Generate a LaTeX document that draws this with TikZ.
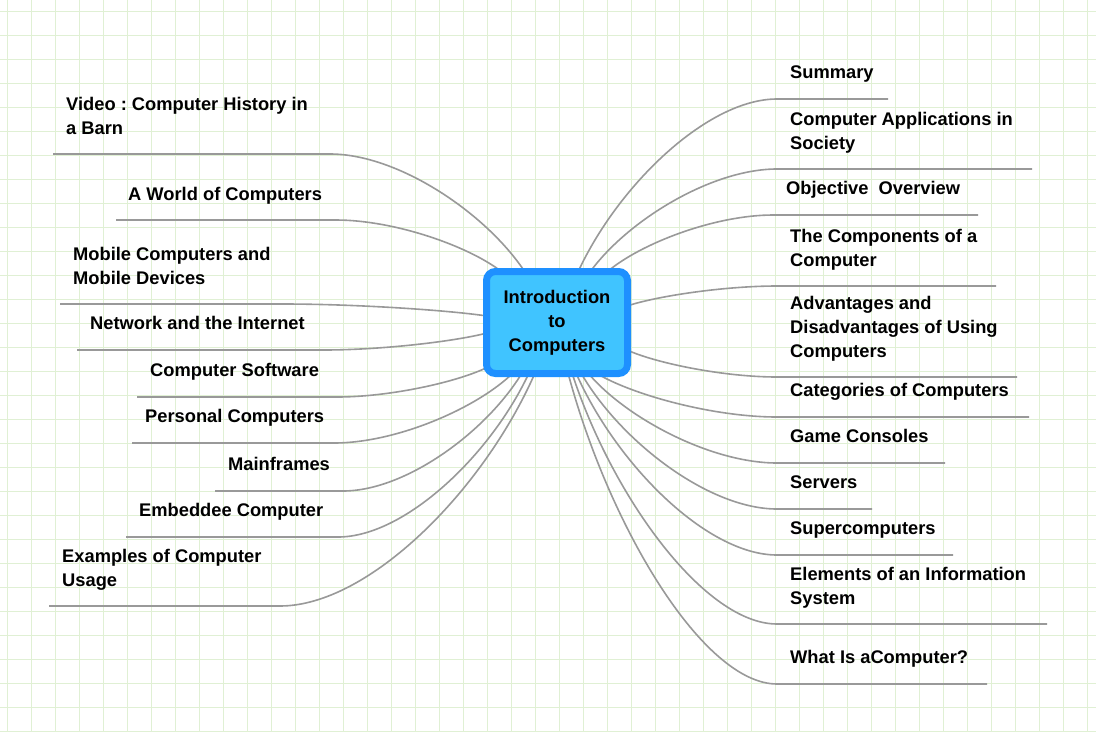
\documentclass[tikz,border=0pt]{standalone}
\usepackage{fontspec}
\setmainfont{Liberation Sans}
\usetikzlibrary{calc}
\frenchspacing
\definecolor{gridc}{RGB}{224,240,212}
\definecolor{connc}{RGB}{153,153,153}
\definecolor{hubborder}{RGB}{30,144,255}
\definecolor{hubfill}{RGB}{64,196,255}
\tikzset{
  lbl/.style={inner sep=0pt, align=left, anchor=base west, text=black,
    font=\fontsize{18.3}{24}\selectfont\bfseries},
  conn/.style={draw=connc, line width=1.6pt},
  gridline/.style={draw=gridc, line width=1pt},
  hubbox/.style={draw=hubborder, fill=hubfill, line width=7pt, rounded corners=9pt,
    minimum width=141pt, minimum height=102pt, inner sep=0pt, align=center, text=black,
    font=\fontsize{18.3}{24}\selectfont\bfseries},
}
\newcommand\mmbranch[3]{%
  \draw[conn] let \p1=(#1), \p2=(#2) in (\p1)
    .. controls ({\x1+0.2*(\x2-\x1)},{\y1+0.5*(\y2-\y1)}) and ({\x2-0.35*(\x2-\x1)},{\y2}) .. (\p2) -- (#3);}
\begin{document}
\begin{tikzpicture}[x=1pt,y=-1pt]
\useasboundingbox (0,0) rectangle (1096,732);
\fill[white] (0,0) rectangle (1096,732);
% grid
\foreach \gx in {7,31,...,1096} {\draw[gridline] (\gx,0) -- (\gx,732);}
\foreach \gy in {11.5,35.5,...,732} {\draw[gridline] (0,\gy) -- (1096,\gy);}

% attach points and underline ends (left)
\coordinate (v-s) at (525,272);  \coordinate (v-e) at (330,154); \coordinate (v-u) at (53,154);
\coordinate (w-s) at (502,272);  \coordinate (w-e) at (336,220); \coordinate (w-u) at (116,220);
\coordinate (m-s) at (487,316);  \coordinate (m-e) at (283,304); \coordinate (m-u) at (60,304);
\coordinate (n-s) at (487,333);  \coordinate (n-e) at (324,350); \coordinate (n-u) at (77,350);
\coordinate (cs-s) at (488,367); \coordinate (cs-e) at (337,397); \coordinate (cs-u) at (137,397);
\coordinate (pc-s) at (513,373); \coordinate (pc-e) at (334,443); \coordinate (pc-u) at (132,443);
\coordinate (mf-s) at (522,373); \coordinate (mf-e) at (343,491); \coordinate (mf-u) at (215,491);
\coordinate (ec-s) at (529,373); \coordinate (ec-e) at (338,537); \coordinate (ec-u) at (126,537);
\coordinate (ex-s) at (535,373); \coordinate (ex-e) at (280,606); \coordinate (ex-u) at (49,606);
% right
\coordinate (su-s) at (578,272); \coordinate (su-e) at (777,99);  \coordinate (su-u) at (888,99);
\coordinate (ca-s) at (590,272); \coordinate (ca-e) at (777,169); \coordinate (ca-u) at (1032,169);
\coordinate (ob-s) at (607,272); \coordinate (ob-e) at (773,215); \coordinate (ob-u) at (978,215);
\coordinate (co-s) at (627,306); \coordinate (co-e) at (777,286); \coordinate (co-u) at (996,286);
\coordinate (ad-s) at (627,350); \coordinate (ad-e) at (777,377); \coordinate (ad-u) at (1017,377);
\coordinate (cc-s) at (596,373); \coordinate (cc-e) at (777,417); \coordinate (cc-u) at (1029,417);
\coordinate (gc-s) at (588,373); \coordinate (gc-e) at (777,463); \coordinate (gc-u) at (945,463);
\coordinate (se-s) at (581,373); \coordinate (se-e) at (777,509); \coordinate (se-u) at (872,509);
\coordinate (sc-s) at (576,373); \coordinate (sc-e) at (777,555); \coordinate (sc-u) at (953,555);
\coordinate (el-s) at (572,373); \coordinate (el-e) at (777,624); \coordinate (el-u) at (1047,624);
\coordinate (wi-s) at (568,373); \coordinate (wi-e) at (777,684); \coordinate (wi-u) at (987,684);

% connectors
\foreach \k in {v,w,m,n,cs,pc,mf,ec,ex,su,ca,ob,co,ad,cc,gc,se,sc,el,wi} {\mmbranch{\k-s}{\k-e}{\k-u}}

% central topic
\node[hubbox] (hub) at (557,322.5) {Introduction\\to\\Computers};

% left labels (anchor = baseline of the last line)
\node[lbl] (video) at (66,134.7) {Video : Computer History in\\a Barn};
\node[lbl] (world) at (128,200.7) {A World of Computers};
\node[lbl] (mobile) at (73,284.7) {Mobile Computers and\\Mobile Devices};
\node[lbl] (network) at (90,329.7) {Network and the Internet};
\node[lbl] (software) at (150,376.7) {Computer Software};
\node[lbl] (personal) at (145,422.7) {Personal Computers};
\node[lbl] (mainframes) at (228,470.7) {Mainframes};
\node[lbl] (embedded) at (139,516.7) {Embeddee Computer};
\node[lbl] (examples) at (62,586.7) {Examples of Computer\\Usage};
% right labels
\node[lbl] (summary) at (790,78.7) {Summary};
\node[lbl] (apps) at (790,149.7) {Computer Applications in\\Society};
\node[lbl] (objective) at (786,194.7) {Objective\ \ Overview};
\node[lbl] (components) at (790,266.7) {The Components of a\\Computer};
\node[lbl] (advantages) at (790,357.7) {Advantages and\\Disadvantages of Using\\Computers};
\node[lbl] (categories) at (790,396.7) {Categories of Computers};
\node[lbl] (game) at (790,442.7) {Game Consoles};
\node[lbl] (servers) at (790,488.7) {Servers};
\node[lbl] (super) at (790,534.7) {Supercomputers};
\node[lbl] (elements) at (790,604.7) {Elements of an Information\\System};
\node[lbl] (whatis) at (790,663.7) {What Is aComputer?};
\end{tikzpicture}
\end{document}
